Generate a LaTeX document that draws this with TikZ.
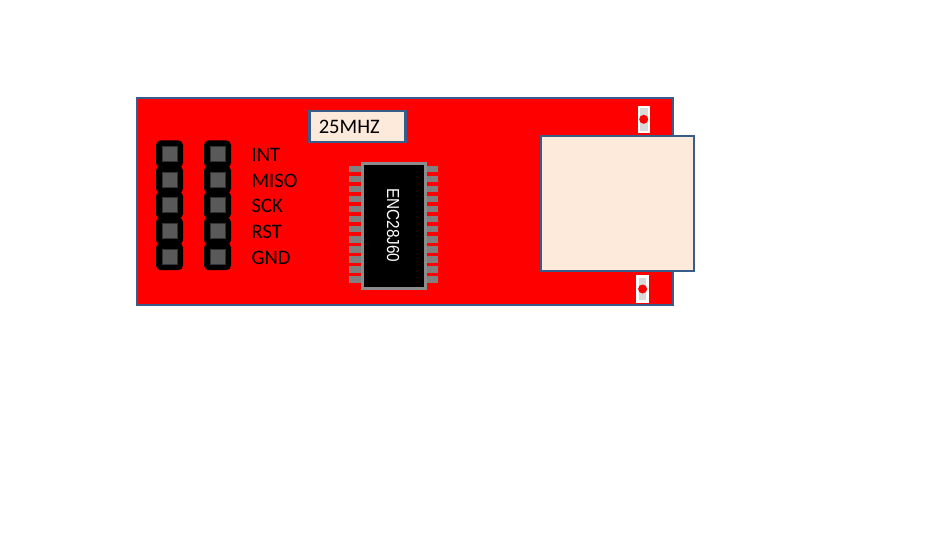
\documentclass[tikz,border=0pt]{standalone}
\usepackage{fontspec}
\setmainfont{Carlito}
\newfontfamily\chipfont{Liberation Sans}
\definecolor{edgeblue}{HTML}{385D8A}
\definecolor{cream}{HTML}{FDEADA}
\definecolor{padgray}{HTML}{595959}
\definecolor{leggray}{HTML}{808080}
\definecolor{chipedge}{HTML}{8C8C8C}
\definecolor{clipgray}{HTML}{D9D9D9}
\usetikzlibrary{positioning}

\tikzset{
	PartStyle/.style = {draw = edgeblue, line width = 2.4pt, inner sep = 0pt},
	BoardStyle/.style = {PartStyle, fill = red, minimum width = 536pt, minimum height = 207pt},
	HeaderStyle/.style = {fill = black, rounded corners = 4.5pt, minimum size = 27pt, inner sep = 0pt},
	PadStyle/.style = {fill = padgray, draw = black!80, line width = 0.8pt, minimum size = 15pt, inner sep = 0pt},
	PinLabel/.style = {anchor = west, inner sep = 0pt, font = \fontsize{20.6}{25}\selectfont},
	LegStyle/.style = {fill = leggray, minimum width = 12pt, minimum height = 6.4pt, inner sep = 0pt},
	ClipStyle/.style = {fill = clipgray, draw = white, line width = 2.4pt, minimum width = 10pt, minimum height = 25pt, inner sep = 0pt},
	DotStyle/.style = {circle, fill = red, minimum size = 9pt, inner sep = 0pt}
}

\begin{document}
\begin{tikzpicture}[x=1pt,y=-1pt]
\useasboundingbox (0,0) rectangle (939,548);
\node[BoardStyle] (board) at (405,201.5) {};
% pin header
\foreach \row/\ypos in {1/154,2/179.5,3/205,4/231,5/256.5}{
	\node[HeaderStyle] (headA\row) at (169.5,\ypos) {};
	\node[HeaderStyle] (headB\row) at (217.5,\ypos) {};
}
\foreach \row/\ypos in {1/154,2/179.5,3/205,4/231,5/256.5}{
	\node[PadStyle] (padA\row) at (headA\row) {};
	\node[PadStyle] (padB\row) at (headB\row) {};
}
\node[PinLabel] (int) at (251.4,155) {INT};
\node[PinLabel] (miso) at (251.4,180.5) {MISO};
\node[PinLabel] (sck) at (251.4,206) {SCK};
\node[PinLabel] (rst) at (251.4,232) {RST};
\node[PinLabel] (gnd) at (251.4,257.5) {GND};
% crystal
\node[PartStyle, fill = cream, minimum width = 96pt, minimum height = 31pt] (xtal) at (357.6,126.4) {};
\node[PinLabel] (xtaltext) at (318.6,126.4) {25MHZ};
% chip
\foreach \leg in {0,...,11}{
	\node[LegStyle] (legL\leg) at (355,168.8+10.08*\leg) {};
	\node[LegStyle] (legR\leg) at (431.5,168.8+10.08*\leg) {};
}
\node[draw = chipedge, fill = black, line width = 2.6pt, minimum width = 63.4pt, minimum height = 125.4pt, inner sep = 0pt] (chip) at (394,226) {};
\node[rotate = -90, xscale = 0.88, transform shape, text = white, inner sep = 0pt, font = \chipfont\fontsize{17.4}{20}\selectfont] (chiptext) at (393,225.5) {ENC28J60};
% clips and jack
\node[ClipStyle] (clipA) at (643.7,119.3) {};
\node[DotStyle] (dotA) at (clipA) {};
\node[ClipStyle] (clipB) at (642.6,289) {};
\node[DotStyle] (dotB) at (clipB) {};
\node[PartStyle, fill = cream, minimum width = 152.6pt, minimum height = 135pt] (jack) at (617.5,203.3) {};
\end{tikzpicture}
\end{document}
